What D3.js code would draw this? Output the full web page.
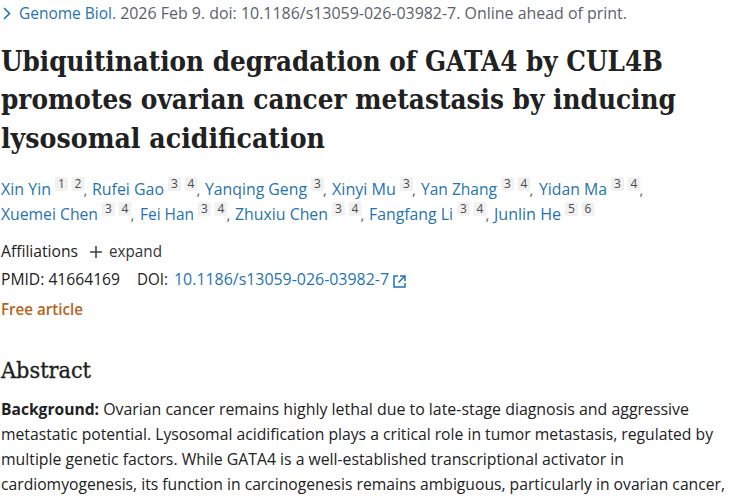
<!DOCTYPE html>
<html>
<head>
<meta charset="utf-8">
<script src="https://cdn.jsdelivr.net/npm/d3@7"></script>
<style>
  html, body { margin: 0; background: #fff; }
  text { white-space: pre; }
</style>
</head>
<body>
<svg id="page" width="750" height="500"></svg>
<script>
const journal = 'Genome Biol.';
const citation = ' 2026 Feb 9. doi: 10.1186/s13059-026-03982-7. Online ahead of print.';
const titleLines = [
    'Ubiquitination degradation of GATA4 by CUL4B',
    'promotes ovarian cancer metastasis by inducing',
    'lysosomal acidification'
];
const authorNames = [
    ['Xin Yin', 'Rufei Gao', 'Yanqing Geng', 'Xinyi Mu', 'Yan Zhang', 'Yidan Ma'],
    ['Xuemei Chen', 'Fei Han', 'Zhuxiu Chen', 'Fangfang Li', 'Junlin He']
];
const authorRefs = [
    [[1, 2], [3, 4], [3], [3], [3, 4], [3, 4]],
    [[3, 4], [3, 4], [3, 4], [3, 4], [5, 6]]
];
const abstractLines = [
    ' Ovarian cancer remains highly lethal due to late-stage diagnosis and aggressive',
    'metastatic potential. Lysosomal acidification plays a critical role in tumor metastasis, regulated by',
    'multiple genetic factors. While GATA4 is a well-established transcriptional activator in',
    'cardiomyogenesis, its function in carcinogenesis remains ambiguous, particularly in ovarian cancer,'
];

const sans = '"Open Sans", "Noto Sans", sans-serif';
const serif = '"DejaVu Serif", serif';
const blue = '#1f74b0';
const dark = '#212121';
const gray = '#5b616b';

const svg = d3.select('#page');

// draws one string, squeezed to the width it has in the screenshot
function label(x, y, str, width, opts = {}) {
    return svg.append('text')
        .attr('x', x).attr('y', y)
        .attr('textLength', width).attr('lengthAdjust', 'spacingAndGlyphs')
        .attr('font-family', opts.family || sans)
        .attr('font-size', opts.size || 16)
        .attr('font-weight', opts.weight || 400)
        .attr('fill', opts.fill || dark)
        .text(str);
}

// top line
svg.append('path').attr('d', d3.line()([[4, 8], [9.5, 13.5], [4, 19]]))
    .attr('fill', 'none').attr('stroke', blue).attr('stroke-width', 1.6);
label(19, 19, journal, 97, { fill: blue });
label(116, 19, citation, 511, { fill: gray });

// title
const titleY = [71, 109, 148];
const titleW = [662, 675, 324];
svg.selectAll('.title').data(titleLines).enter().append('text')
    .attr('class', 'title')
    .attr('x', 1).attr('y', (d, i) => titleY[i])
    .attr('textLength', (d, i) => titleW[i]).attr('lengthAdjust', 'spacingAndGlyphs')
    .attr('font-family', serif).attr('font-weight', 700).attr('font-size', 27)
    .attr('fill', dark)
    .text(d => d);

// authors
const authorY = [195, 220];
const nameX = [[1, 92, 205, 332, 421, 539], [1, 140, 235, 369, 494]];
const nameW = [[50, 72, 102, 64, 76, 68], [97, 54, 93, 84, 67]];
authorNames.forEach((row, r) => {
    const g = svg.append('g');
    const group = g.selectAll('g').data(row).enter().append('g');
    group.append('text')
        .attr('x', (d, i) => nameX[r][i]).attr('y', authorY[r])
        .attr('textLength', (d, i) => nameW[r][i]).attr('lengthAdjust', 'spacingAndGlyphs')
        .attr('font-family', sans).attr('font-size', 16).attr('fill', blue)
        .text(d => d);
    group.each(function (d, i) {
        const base = nameX[r][i] + nameW[r][i] + 4;
        const badge = d3.select(this).selectAll('g').data(authorRefs[r][i]).enter().append('g')
            .attr('transform', (n, k) => `translate(${base + k * 16.5},${authorY[r] - 18})`);
        badge.append('rect').attr('width', 13).attr('height', 14).attr('rx', 2).attr('fill', '#f1f1f1');
        badge.append('text').attr('x', 6.5).attr('y', 11).attr('text-anchor', 'middle')
            .attr('font-family', sans).attr('font-size', 12).attr('fill', '#4a4a4a')
            .text(n => n);
        const count = authorRefs[r][i].length;
        if (r === 0 || i < row.length - 1) {
            d3.select(this).append('text')
                .attr('x', base + count * 16.5 - 4.5).attr('y', authorY[r])
                .attr('font-family', sans).attr('font-size', 15).attr('fill', gray)
                .text(',');
        }
    });
});

// meta rows
label(1, 257, 'Affiliations', 77, { fill: dark });
svg.append('path').attr('d', 'M96 246V258M90 252H102').attr('stroke', '#444').attr('stroke-width', 1.6);
label(109, 257, 'expand', 53, { fill: '#333' });
label(1, 285, 'PMID: 41664169', 119, { fill: dark });
label(137, 285, 'DOI:', 31, { fill: dark });
label(174, 285, '10.1186/s13059-026-03982-7', 215, { fill: blue });
svg.append('path').attr('d', 'M398 276H394V287H405V283M400 276H405V281M405 276L398.5 282.5')
    .attr('fill', 'none').attr('stroke', blue).attr('stroke-width', 1.5);
label(1, 315, 'Free article', 82, { fill: '#b5651d', weight: 600 });

// abstract
label(1, 378, 'Abstract', 90, { family: serif, size: 22, weight: 400 }).attr('stroke', dark).attr('stroke-width', 0.35);
label(1, 415, 'Background:', 98, { weight: 700 });
const abstractY = [415, 440, 465, 490];
const abstractX = [99, 1, 1, 1];
const abstractW = [590, 712, 623, 724];
svg.selectAll('.abs').data(abstractLines).enter().append('text')
    .attr('class', 'abs')
    .attr('x', (d, i) => abstractX[i]).attr('y', (d, i) => abstractY[i])
    .attr('textLength', (d, i) => abstractW[i]).attr('lengthAdjust', 'spacingAndGlyphs')
    .attr('font-family', sans).attr('font-size', 16).attr('fill', dark)
    .text(d => d);
</script>
</body>
</html>
